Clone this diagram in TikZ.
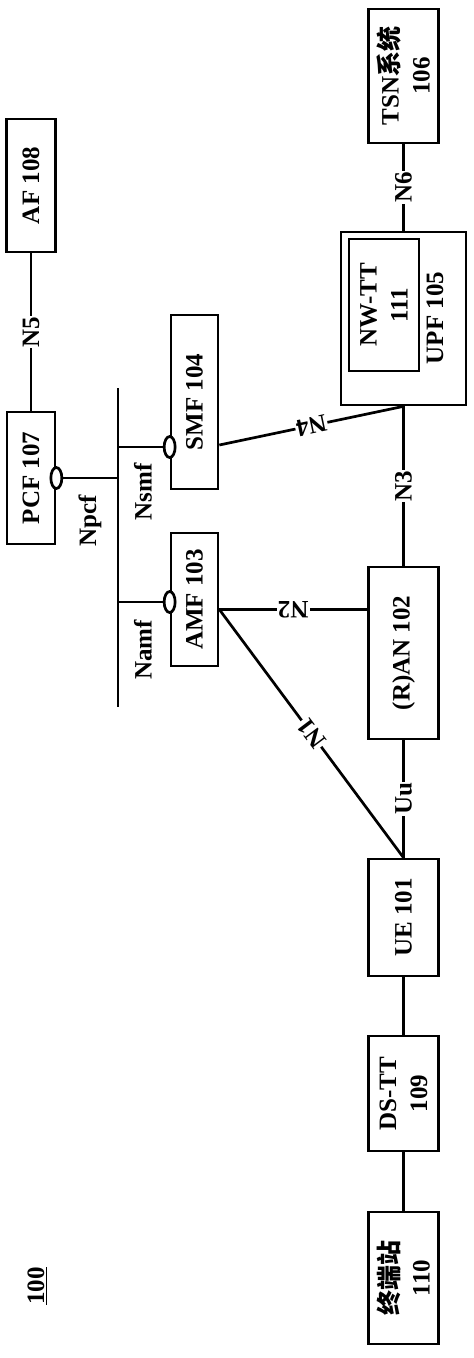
\documentclass[tikz,border=0pt]{standalone}
\usepackage{fontspec}
\setmainfont{Liberation Serif}
\newfontfamily\cjk{Noto Sans CJK SC}
\usetikzlibrary{
  shapes.geometric
}
\tikzset{
  every node/.style = {font=\bfseries\fontsize{25}{31}\selectfont},
  box/.style = {draw, rotate=90, inner sep=0pt, align=center},
  iface/.style = {fill=white, inner sep=1pt, rotate=#1},
  iface/.default = 90,
  svc/.style = {ellipse, draw, fill=white, inner sep=0pt,
    minimum width=11pt, minimum height=21pt},
  tag/.style = {rotate=90},
}

\begin{document}
\begin{tikzpicture}[x=1pt, y=-1pt, line width=2.7pt]
  \useasboundingbox (0,0) rectangle (474,1358);
  \node[box, minimum width=134pt, minimum height=70pt] (106) at (403.5,76) {TSN{\cjk 系统}\\106};
  \node[box, minimum width=133pt, minimum height=49pt] (108) at (31,185.5) {AF 108};
  \node[box, minimum width=173pt, minimum height=125pt] (105) at (403.5,318.5) {};
  \node[box, minimum width=132pt, minimum height=70pt] (111) at (384,305) {NW-TT\\111};
  \node[tag] (105t) at (435,318) {UPF 105};
  \node[box, minimum width=174pt, minimum height=47pt] (104) at (194.5,402) {SMF 104};
  \node[box, minimum width=132pt, minimum height=48pt] (107) at (31,478) {PCF 107};
  \node[box, minimum width=133pt, minimum height=47pt] (103) at (194.5,599.5) {AMF 103};
  \node[box, minimum width=172pt, minimum height=70pt] (102) at (403.5,653) {(R)AN 102};
  \node[box, minimum width=117pt, minimum height=70pt] (101) at (403.5,917.5) {UE 101};
  \node[box, minimum width=115pt, minimum height=70pt] (109) at (403.5,1093.5) {DS-TT\\109};
  \node[box, minimum width=132pt, minimum height=70pt] (110) at (403.5,1278) {{\cjk 终端站}\\110};
  \node[tag] (100) at (37,1286) {\underline{100}};

  % service bus
  \node[tag] (npcf) at (90,521) {Npcf};
  \node[tag] (nsmf) at (143,492) {Nsmf};
  \node[tag] (namf) at (143,650) {Namf};
  \coordinate (bt) at (118,388);
  \coordinate (bb) at (118,707);
  \node[svc] (o107) at (107.south) {};
  \node[svc] (o104) at ([yshift=-45pt]104.north) {};
  \node[svc] (o103) at ([yshift=-2.5pt]103.north) {};
  \draw (bt) -- (bb);
  \draw (o107) -- (o107 -| bt);
  \draw (o104) -- (o104 -| bt);
  \draw (o103) -- (o103 -| bt);

  \draw (108.west) -- node[iface]{N5} (107.east);
  \draw (106.west) -- node[iface]{N6} (105.east);
  \draw (105.west) -- node[iface]{N3} (102.east);
  \draw (102.west) -- node[iface]{Uu} (101.east);
  \draw (101.west) -- (109.east);
  \draw (109.west) -- (110.east);
  \coordinate (n2) at ([yshift=-10pt]103.south);
  \draw (n2) -- node[iface=180]{N2} (n2 -| 102.north);
  \draw (n2) -- node[iface=127]{N1} (101.east);
  \draw ([yshift=-43pt]104.south) -- node[iface=192]{N4} (105.west);
\end{tikzpicture}
\end{document}
